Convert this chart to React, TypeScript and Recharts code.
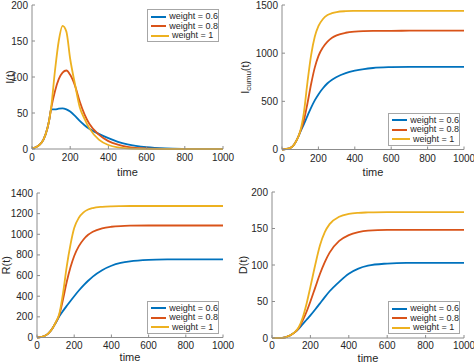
import React from "react";
import { LineChart, Line, XAxis, YAxis, Legend } from "recharts";

const time = [0, 20, 40, 60, 80, 90, 100, 120, 140, 160, 180, 200, 225, 250, 275, 300, 350, 400, 450, 500, 600, 700, 800, 900, 1000];

// I(t)
const iW06 = [1, 2.5, 6, 13, 28, 40, 55, 55, 56, 56.5, 55, 52, 46, 39, 33, 28, 21, 15, 10, 6.5, 2.5, 0.8, 0.25, 0.08, 0.02];
const iW08 = [1, 2.5, 6, 13, 28, 40, 56, 80, 97, 106, 109, 103, 88, 66, 48, 35, 20, 11, 6, 3, 0.8, 0.2, 0.05, 0.01, 0];
const iW10 = [1, 2.5, 6, 13, 28, 40, 57, 108, 150, 171, 163, 125, 90, 58, 42, 29, 13, 5.5, 2.2, 0.9, 0.15, 0.03, 0, 0, 0];

// I_cumu(t)
const cW06 = [0, 4, 12, 35, 95, 135, 180, 262, 350, 435, 510, 572, 636, 688, 725, 753, 793, 818, 835, 846, 855, 858, 858, 858, 858];
const cW08 = [0, 4, 12, 35, 95, 135, 185, 300, 480, 680, 850, 970, 1060, 1120, 1160, 1185, 1212, 1224, 1229, 1231, 1232, 1233, 1233, 1233, 1233];
const cW10 = [0, 4, 12, 35, 95, 135, 190, 380, 700, 980, 1170, 1280, 1355, 1395, 1415, 1427, 1436, 1439, 1440, 1440, 1440, 1440, 1440, 1440, 1440];

// R(t)
const rW06 = [0, 4, 15, 38, 80, 110, 140, 205, 258, 307, 354, 400, 455, 505, 550, 590, 652, 695, 722, 738, 752, 756, 757, 757, 757];
const rW08 = [0, 4, 15, 38, 80, 110, 142, 220, 370, 540, 680, 790, 885, 950, 995, 1025, 1058, 1073, 1080, 1083, 1085, 1085, 1085, 1085, 1085];
const rW10 = [0, 4, 15, 38, 80, 110, 145, 230, 430, 690, 900, 1060, 1160, 1212, 1240, 1254, 1266, 1271, 1273, 1274, 1274, 1274, 1274, 1274, 1274];

// D(t)
const dW06 = [0, 0, 0.2, 0.6, 2, 3, 4.5, 8, 13, 19, 25, 31, 39, 47.5, 56, 64, 77, 88, 95, 99, 102, 103, 103, 103, 103];
const dW08 = [0, 0, 0.2, 0.6, 2, 3, 4.5, 8, 14, 24, 36, 50, 69, 88, 104, 117, 133, 141, 145, 147, 148, 148, 148, 148, 148];
const dW10 = [0, 0, 0.2, 0.6, 2, 3, 4.5, 8.5, 15, 28, 47, 70, 100, 127, 145, 156, 166, 170, 171.5, 172, 172.5, 172.5, 172.5, 172.5, 172.5];

const names = ["weight = 0.6", "weight = 0.8", "weight = 1"];
const colors = ["#0072BD", "#D95319", "#EDB120"];
const keys = ["w06", "w08", "w10"];
const xTicks = [0, 200, 400, 600, 800, 1000];

const FONT = '"Liberation Sans", Arial, Helvetica, sans-serif';
const TXT = "#262626";
const AX = "#8c8c8c";

const build = (a: number[], b: number[], c: number[]) =>
  time.map((t, i) => ({ t, w06: a[i], w08: b[i], w10: c[i] }));

const LegendBox = (props: any) => {
  const items = props.payload && props.payload.length ? props.payload : names.map((n, i) => ({ value: n, color: colors[i] }));
  return (
    <div style={{ width: 72, height: 33, boxSizing: "border-box", border: "1px solid #a6a6a6", background: "#fff", padding: "2px 0 0 3px" }}>
      {items.map((e: any) => (
        <div key={e.value} style={{ display: "flex", alignItems: "center", height: 9.5, fontSize: 9, lineHeight: "9.5px", color: TXT, fontFamily: FONT, whiteSpace: "nowrap" }}>
          <span style={{ display: "inline-block", width: 18, height: 2, background: e.color, marginRight: 3 }} />
          {e.value}
        </div>
      ))}
    </div>
  );
};

interface PanelProps {
  data: any[];
  yTicks: number[];
  title: string;
  sub?: string;
  plot: [number, number, number, number]; // left, right, top, bottom
  at: [number, number];
  legendTop: boolean;
  xTitleY: number;
  yTitleX: number;
  tickGap: number;
}

function Panel({ data, yTicks, title, sub, plot, at, legendTop, xTitleY, yTitleX, tickGap }: PanelProps) {
  const W = 237, H = 182;
  const [l, r, t, b] = plot;
  const cy = (t + b) / 2;
  const tickStyle = { fontSize: 10, fill: TXT, fontFamily: FONT };
  return (
    <div style={{ position: "absolute", left: at[0], top: at[1], width: W, height: H }}>
      <LineChart width={W} height={H} data={data} margin={{ top: t, right: W - r, left: 0, bottom: 0 }}>
        <XAxis
          dataKey="t" type="number" domain={[0, 1000]} ticks={xTicks} interval={0}
          height={H - b} tickSize={-3} tickMargin={tickGap}
          axisLine={{ stroke: AX }} tickLine={{ stroke: AX }} tick={tickStyle}
          label={{
            content: () => (
              <text x={(l + r) / 2} y={xTitleY} textAnchor="middle" dominantBaseline="central" fontSize={11} fill={TXT} fontFamily={FONT}>
                time
              </text>
            ),
          }}
        />
        <XAxis
          xAxisId="top" orientation="top" dataKey="t" type="number" domain={[0, 1000]} ticks={xTicks} interval={0}
          height={0} tickSize={-3} axisLine={{ stroke: AX }} tickLine={{ stroke: AX }} tickFormatter={() => ""}
        />
        <YAxis
          type="number" domain={[0, yTicks[yTicks.length - 1]]} ticks={yTicks} interval={0}
          width={l} tickSize={-3} tickMargin={7}
          axisLine={{ stroke: AX }} tickLine={{ stroke: AX }} tick={tickStyle}
          label={{
            content: () => (
              <text x={yTitleX} y={cy} transform={`rotate(-90 ${yTitleX} ${cy})`} textAnchor="middle" dominantBaseline="central" fontSize={11} fill={TXT} fontFamily={FONT}>
                {sub ? (
                  <>
                    {title}
                    <tspan fontSize={8} dy={3}>{sub}</tspan>
                    <tspan dy={-3}>(t)</tspan>
                  </>
                ) : (
                  title
                )}
              </text>
            ),
          }}
        />
        <YAxis
          yAxisId="right" orientation="right" type="number" domain={[0, yTicks[yTicks.length - 1]]} ticks={yTicks} interval={0}
          width={0} tickSize={-3} axisLine={{ stroke: AX }} tickLine={{ stroke: AX }} tickFormatter={() => ""}
        />
        <Legend
          layout="vertical" align="center" verticalAlign="middle"
          content={LegendBox}
          wrapperStyle={{ left: r - 4 - 72, top: legendTop ? t + 4 : b - 4 - 33, width: 72, height: 33 }}
        />
        {keys.map((k, i) => (
          <Line
            key={k} dataKey={k} name={names[i]} type="monotone" stroke={colors[i]}
            strokeWidth={1.8} dot={false} activeDot={false} isAnimationActive={false}
          />
        ))}
      </LineChart>
    </div>
  );
}

export default function App() {
  return (
    <div style={{ position: "absolute", left: 0, top: 0, width: 474, height: 364, background: "#fff", overflow: "hidden" }}>
      <Panel data={build(iW06, iW08, iW10)} yTicks={[0, 50, 100, 150, 200]} title="I(t)"
        plot={[32, 223, 5, 149]} at={[0, 0]} legendTop xTitleY={172} yTitleX={10} tickGap={8} />
      <Panel data={build(cW06, cW08, cW10)} yTicks={[0, 500, 1000, 1500]} title="I" sub="cumu"
        plot={[45, 227, 5, 149.5]} at={[237, 0]} legendTop={false} xTitleY={172} yTitleX={8} tickGap={8} />
      <Panel data={build(rW06, rW08, rW10)} yTicks={[0, 200, 400, 600, 800, 1000, 1200, 1400]} title="R(t)"
        plot={[37, 223, 11, 155.5]} at={[0, 182]} legendTop={false} xTitleY={175} yTitleX={6} tickGap={7} />
      <Panel data={build(dW06, dW08, dW10)} yTicks={[0, 50, 100, 150, 200]} title="D(t)"
        plot={[35, 227, 10, 156]} at={[237, 182]} legendTop={false} xTitleY={175.5} yTitleX={6} tickGap={7} />
    </div>
  );
}
